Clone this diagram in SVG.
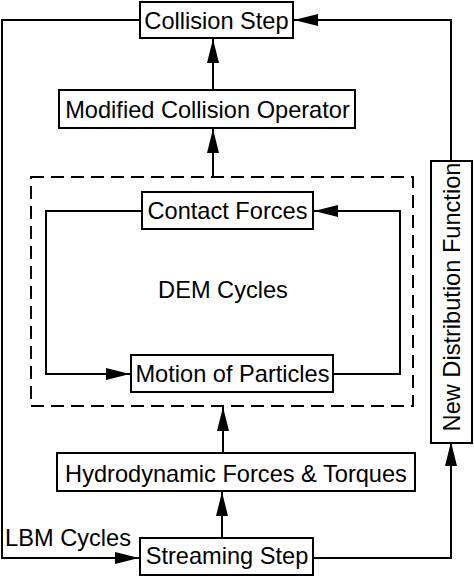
<svg xmlns="http://www.w3.org/2000/svg" width="474" height="577" viewBox="0 0 474 577">
<defs>
<marker id="ah" markerUnits="userSpaceOnUse" markerWidth="24" markerHeight="13" refX="24" refY="6.5" orient="auto">
<path d="M0,0.5 L24,6.5 L0,12.5 z" fill="#000"/>
</marker>
<style>
.box{fill:#fff;stroke:#000;stroke-width:2}
.t{font-family:"Liberation Sans",Arial,sans-serif;font-size:23.6px;fill:#000;text-anchor:middle}
.c{fill:none;stroke:#000;stroke-width:2;marker-end:url(#ah)}
.dash{fill:none;stroke:#000;stroke-width:2;stroke-dasharray:13 7}
</style>
</defs>
<rect width="474" height="577" fill="#fff"/>
<g id="dem-group">
<rect class="dash" x="31" y="177" width="382" height="229"/>
<text class="t" x="223" y="298">DEM Cycles</text>
</g>
<g id="connectors">
<path class="c" d="M140,20 H2 V558 H139"/>
<path class="c" d="M313,558 H451 V442"/>
<path class="c" d="M451,161 V20 H294"/>
<path class="c" d="M222,538 V492"/>
<path class="c" d="M223,453 V407"/>
<path class="c" d="M213,177 V129"/>
<path class="c" d="M213,90 V39"/>
<path class="c" d="M142,211 H46 V374 H130"/>
<path class="c" d="M333,374 H400 V211 H314"/>
</g>
<g id="collision-step">
<rect class="box" x="140" y="2" width="153" height="36"/>
<text class="t" x="216.5" y="29">Collision Step</text>
</g>
<g id="modified-collision-operator">
<rect class="box" x="59" y="90" width="296" height="38"/>
<text class="t" x="207.5" y="118">Modified Collision Operator</text>
</g>
<g id="contact-forces">
<rect class="box" x="142" y="192" width="171" height="37"/>
<text class="t" x="227.5" y="219">Contact Forces</text>
</g>
<g id="motion-of-particles">
<rect class="box" x="131" y="355" width="202" height="37"/>
<text class="t" x="232.5" y="382">Motion of Particles</text>
</g>
<g id="hydrodynamic-forces">
<rect class="box" x="57" y="453" width="358" height="38"/>
<text class="t" x="236" y="482">Hydrodynamic Forces &amp; Torques</text>
</g>
<g id="streaming-step">
<rect class="box" x="140" y="538" width="173" height="37"/>
<text class="t" x="227" y="564">Streaming Step</text>
</g>
<g id="new-distribution-function">
<rect class="box" x="431" y="161" width="41" height="282"/>
<text class="t" transform="translate(460,297) rotate(-90)" x="0" y="0">New Distribution Function</text>
</g>
<g id="lbm-label">
<text class="t" x="68" y="546">LBM Cycles</text>
</g>
</svg>
